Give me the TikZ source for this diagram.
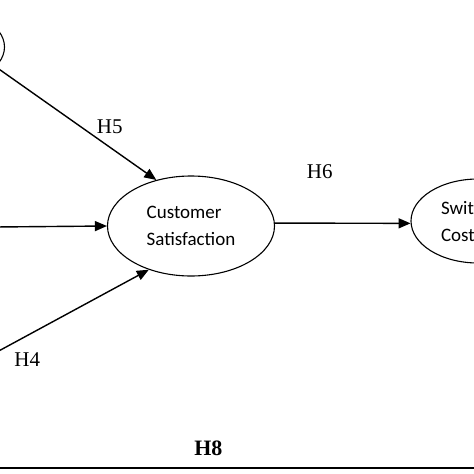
\documentclass[tikz,border=0pt]{standalone}
\usepackage{fontspec}
\setmainfont{Liberation Serif}
\newfontfamily\carlito{Carlito}
\usetikzlibrary{shapes.geometric,arrows.meta}

\begin{document}
\begin{tikzpicture}[x=1pt,y=-1pt,line width=1.4pt]

      \useasboundingbox (0,0) rectangle (474,474);
      \clip (0,0) rectangle (474,474);

      \begin{scope}[every node/.style={ellipse,draw,line width=1.1pt,inner sep=0pt,align=left,font=\carlito\fontsize{19}{27}\selectfont}]
        \node[minimum width=140pt,minimum height=80pt]  (tl) at (-65.5,47) {};
        \node[minimum width=167pt,minimum height=100pt] (cs) at (191,226)  {Customer\\Satisfaction};
        \node[minimum width=134pt,minimum height=84pt]  (sw) at (478,221)  {Switching\\Cost};
      \end{scope}

      \coordinate (a1) at (-5,227);
      \coordinate (a4) at (-5,353);
      \coordinate (b1) at (-5,468);
      \coordinate (b2) at (480,468);

      \begin{scope}[every node/.style={font=\fontsize{21}{21}\selectfont}]

        \begin{scope}[every edge/.style={draw,-{Triangle[length=12pt,width=10pt]}}]
          \path (tl.-18) edge node[pos=.71,above=9.5pt] {H5} (cs.127);
          \path (a1)     edge (cs.west);
          \path (a4)     edge node[pos=.21,below=13.5pt] {H4} (cs.226);
          \path (cs.2)   edge node[pos=.33,above=40pt] {H6} (sw.182);
        \end{scope}

        \path (b1) edge[line width=1.6pt] node[pos=.44,above=8pt,font=\bfseries\fontsize{22}{22}\selectfont] {H8} (b2);
      \end{scope}

    \end{tikzpicture}
\end{document}
